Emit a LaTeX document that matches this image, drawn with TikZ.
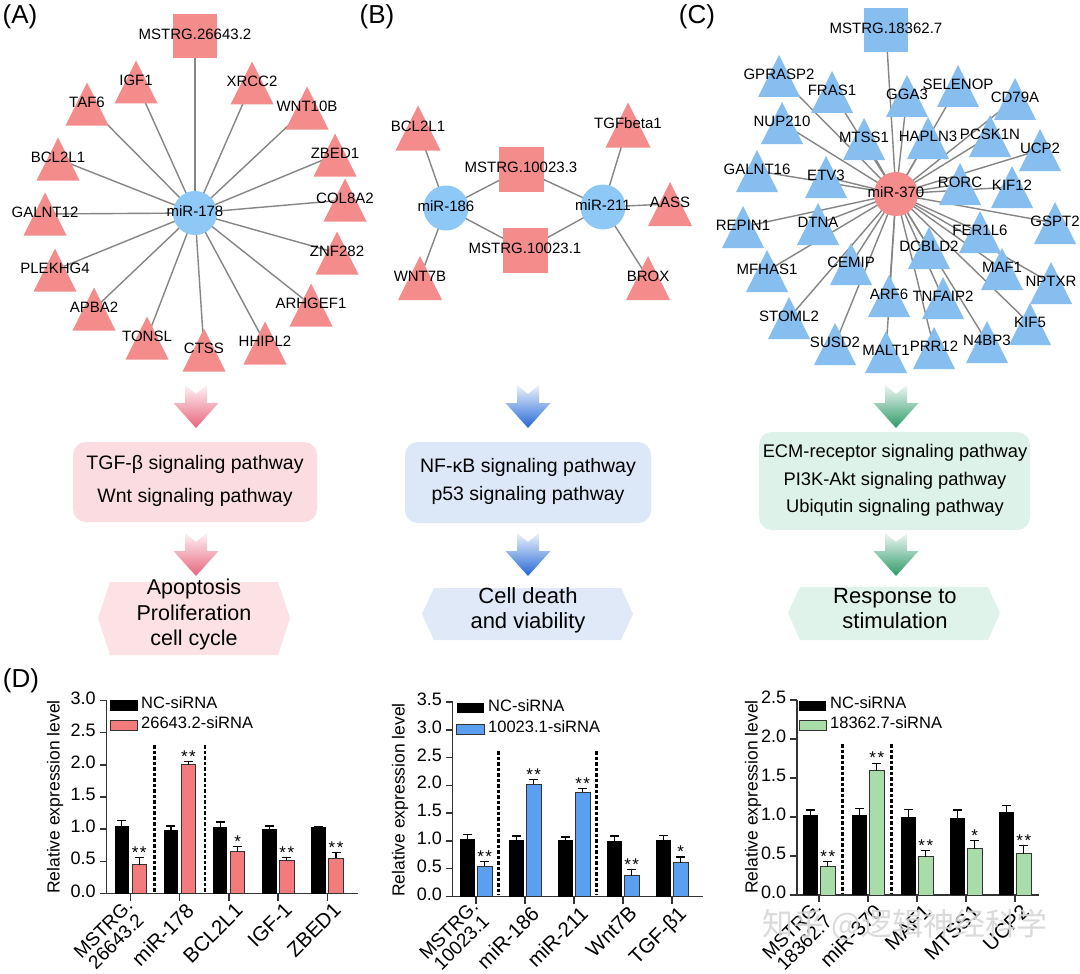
\documentclass[tikz,border=0pt]{standalone}
\usepackage{fontspec}
\setmainfont{Liberation Sans}
\newfontfamily\cjkfont{Noto Sans CJK SC}
\pgfdeclarelayer{bg}
\pgfdeclarelayer{edges}
\pgfdeclarelayer{shapes}
\pgfsetlayers{bg,edges,shapes,main}
\definecolor{tripink}{HTML}{F48C8C}
\definecolor{triblue}{HTML}{86BEEF}
\definecolor{cirblue}{HTML}{8DC8F7}
\definecolor{edgegray}{HTML}{858585}
\definecolor{boxpink}{HTML}{FBDDE1}
\definecolor{boxblue}{HTML}{DCE7F7}
\definecolor{boxgreen}{HTML}{DDF2E9}
\definecolor{arrpink}{HTML}{E8647C}
\definecolor{arrblue}{HTML}{2468D4}
\definecolor{arrgreen}{HTML}{2E9A68}
\definecolor{barpink}{HTML}{F47B7B}
\definecolor{barblue}{HTML}{5BA0F0}
\definecolor{bargreen}{HTML}{A8DCA8}
\definecolor{axisgray}{HTML}{333333}
\newcommand\fs[1]{\fontsize{#1}{#1}\selectfont}
\tikzset{
  lbl/.style={font=\fs{15}, inner sep=0pt, text height=0.72em, text depth=0pt},
  edge/.style={draw=edgegray, line width=1.4pt},
  ptxt/.style={inner sep=0pt, text height=0.72em, text depth=0.21em},
  axisline/.style={draw=axisgray, line width=1.5pt},
  errb/.style={draw=black, line width=1.2pt},
  sepline/.style={draw=black, line width=2.2pt, dash pattern=on 3.5pt off 2pt},
  stars/.style={font=\fs{17}, inner sep=0pt},
  ticklbl/.style={font=\fs{18}, inner sep=0pt, anchor=east, text height=0.72em, text depth=0pt},
  xlab/.style={font=\fs{20.5}, inner sep=0pt, rotate=45, anchor=north east},
  xlabtwo/.style={font=\fontsize{19}{18}\selectfont, inner sep=0pt, rotate=45, anchor=north east, align=center},
  ytitle/.style={font=\fs{17.5}, rotate=90, inner sep=0pt},
  leg/.style={font=\fs{16.5}, inner sep=0pt, anchor=west, text height=0.72em, text depth=0.21em},
  panel/.style={font=\fs{26}, inner sep=0pt},
  pbox/.style={fill=#1, rounded corners=13pt, inner sep=0pt},
}
\newcommand\tri[6]{%
  \node[lbl] (#1) at (#2,#3) {#4};
  \begin{pgfonlayer}{shapes}
    \fill[#5] (#2-#6,#3+#6) -- (#2+#6,#3+#6) -- (#2,#3-#6) -- cycle;
  \end{pgfonlayer}}
\newcommand\sqr[6]{%
  \node[lbl] (#1) at (#2,#3) {#4};
  \begin{pgfonlayer}{shapes}
    \fill[#5] (#2-#6,#3-#6) rectangle (#2+#6,#3+#6);
  \end{pgfonlayer}}
\newcommand\cnode[6]{%
  \node[lbl] (#1) at (#2,#3) {#4};
  \begin{pgfonlayer}{shapes}
    \fill[#5] (#2,#3) circle[radius=#6];
  \end{pgfonlayer}}
\newcommand\grarrow[3]{%
  \shade[top color=#3!8, bottom color=#3] (#1-11,#2) -- (#1,#2+9) -- (#1+11,#2) -- (#1+11,#2+18) -- (#1+22.5,#2+18) -- (#1,#2+43) -- (#1-22.5,#2+18) -- (#1-11,#2+18) -- cycle;}
\newcommand\bpair[9]{%
  \fill[black] (#1-16,#2) rectangle (#1-1.5,#2-#3*#4);
  \draw[errb] (#1-8.75,#2-#3*#4) -- (#1-8.75,#2-#3*#5) (#1-13.25,#2-#3*#5) -- (#1-4.25,#2-#3*#5);
  \filldraw[fill=#9, draw=axisgray, line width=1pt] (#1+1.5,#2) rectangle (#1+16,#2-#3*#6);
  \draw[errb] (#1+8.75,#2-#3*#6) -- (#1+8.75,#2-#3*#7) (#1+4.25,#2-#3*#7) -- (#1+13.25,#2-#3*#7);
  \node[stars, anchor=south] at (#1+8.75,#2-#3*#7+1) {#8};}
\begin{document}
\begin{tikzpicture}[x=1pt,y=-1pt]
\begin{pgfonlayer}{bg}\fill[white] (0,0) rectangle (1080,974);\end{pgfonlayer}
\useasboundingbox (0,0) rectangle (1080,974);
% ---------- panel A ----------
\node[panel] (lA) at (20,17) {(A)};
\sqr{aS}{195}{36}{MSTRG.26643.2}{tripink}{22}
\cnode{a178}{195}{213}{miR-178}{cirblue}{22}
\foreach \n/\x/\y in {IGF1/136/82, TAF6/87/104, XRCC2/252/83, WNT10B/307/108, ZBED1/335/155, COL8A2/345/200, ZNF282/337/253, ARHGEF1/311/305, HHIPL2/265/343, CTSS/204/350, TONSL/147/338, APBA2/94/309, PLEKHG4/55/270, GALNT12/45/214, BCL2L1/58/159}
  {\tri{a\n}{\x}{\y}{\n}{tripink}{21.5}}
\begin{pgfonlayer}{edges}
\foreach \n in {S,IGF1,TAF6,XRCC2,WNT10B,ZBED1,COL8A2,ZNF282,ARHGEF1,HHIPL2,CTSS,TONSL,APBA2,PLEKHG4,GALNT12,BCL2L1}
  \draw[edge] (a178.center) -- (a\n.center);
\end{pgfonlayer}
% ---------- panel B ----------
\node[panel] (lB) at (377,17) {(B)};
\tri{bBCL}{418}{128}{BCL2L1}{tripink}{22.5}
\tri{bTGF}{628}{125}{TGFbeta1}{tripink}{22.5}
\sqr{bSthree}{521}{169}{MSTRG.10023.3}{tripink}{22.5}
\sqr{bSone}{525}{250}{MSTRG.10023.1}{tripink}{22.5}
\cnode{bm186}{446}{208}{miR-186}{cirblue}{22.5}
\cnode{bm211}{603}{207}{miR-211}{cirblue}{22.5}
\tri{bAASS}{670}{204}{AASS}{tripink}{22}
\tri{bWNT}{420}{278}{WNT7B}{tripink}{22}
\tri{bBROX}{648}{278}{BROX}{tripink}{22}
\begin{pgfonlayer}{edges}
\foreach \n in {bBCL,bWNT,bSthree,bSone} \draw[edge] (bm186.center) -- (\n.center);
\foreach \n in {bTGF,bAASS,bBROX,bSthree,bSone} \draw[edge] (bm211.center) -- (\n.center);
\end{pgfonlayer}
% ---------- panel C ----------
\node[panel] (lC) at (697,17) {(C)};
\sqr{cS}{886}{30}{MSTRG.18362.7}{triblue}{22}
\cnode{c370}{896}{194}{miR-370}{tripink}{22}
\foreach \n/\x/\y in {GPRASP2/779/76, FRAS1/832/92, GGA3/907/96, SELENOP/958/86, CD79A/1015/99, NUP210/782/123, MTSS1/864/139, HAPLN3/928/138, PCSK1N/990/136, UCP2/1040/150, GALNT16/757/171, ETV3/826/177, RORC/960/184, KIF12/1012/187, GSPT2/1055/223, REPIN1/743/227, DTNA/818/224, FER1L6/980/232, DCBLD2/929/248, MFHAS1/767/271, CEMIP/851/264, MAF1/1002/269, NPTXR/1051/283, ARF6/889/296, TNFAIP2/943/298, STOML2/789/318, KIF5/1030/324, SUSD2/835/344, MALT1/886/352, PRR12/934/348, N4BP3/987/342}
  {\tri{c\n}{\x}{\y}{\n}{triblue}{21}}
\begin{pgfonlayer}{edges}
\foreach \n in {S,GPRASP2,FRAS1,GGA3,SELENOP,CD79A,NUP210,MTSS1,HAPLN3,PCSK1N,UCP2,GALNT16,ETV3,RORC,KIF12,GSPT2,REPIN1,DTNA,FER1L6,DCBLD2,MFHAS1,CEMIP,MAF1,NPTXR,ARF6,TNFAIP2,STOML2,KIF5,SUSD2,MALT1,PRR12,N4BP3}
  \draw[edge] (c370.center) -- (c\n.center);
\end{pgfonlayer}
% ---------- arrows ----------
\grarrow{196}{385}{arrpink}
\grarrow{196}{533}{arrpink}
\grarrow{528}{385}{arrblue}
\grarrow{528}{533}{arrblue}
\grarrow{896}{385}{arrgreen}
\grarrow{896}{533}{arrgreen}
% ---------- pathway boxes ----------
\node[pbox=boxpink, minimum width=244pt, minimum height=80pt] (boxA) at (195,482) {};
\node[pbox=boxblue, minimum width=246pt, minimum height=81pt] (boxB) at (528,482.5) {};
\node[pbox=boxgreen, minimum width=271pt, minimum height=98pt] (boxC) at (894.5,481) {};
\node[ptxt, font=\fs{19.5}] (tA1) at (195,467) {TGF-β signaling pathway};
\node[ptxt, font=\fs{19.5}] (tA2) at (195,500) {Wnt signaling pathway};
\node[ptxt, font=\fs{19.5}] (tB1) at (528,470) {NF-κB signaling pathway};
\node[ptxt, font=\fs{19.5}] (tB2) at (528,498) {p53 signaling pathway};
\node[ptxt, font=\fs{18.3}] (tC1) at (895,455) {ECM-receptor signaling pathway};
\node[ptxt, font=\fs{18.3}] (tC2) at (895,483) {PI3K-Akt signaling pathway};
\node[ptxt, font=\fs{18.3}] (tC3) at (895,510) {Ubiqutin signaling pathway};
% ---------- outcome hexagons ----------
\fill[boxpink!85!white] (110,582) -- (278,582) -- (290,618) -- (278,655) -- (110,655) -- (98,618) -- cycle;
\fill[boxblue!90!white] (434,588) -- (621,588) -- (633,614) -- (621,640) -- (434,640) -- (422,614) -- cycle;
\fill[boxgreen!90!white] (800,587) -- (988,587) -- (1000,613) -- (988,640) -- (800,640) -- (788,613) -- cycle;
\node[ptxt, font=\fs{21.5}] (hA1) at (194,592) {Apoptosis};
\node[ptxt, font=\fs{21.5}] (hA2) at (194,618) {Proliferation};
\node[ptxt, font=\fs{21.5}] (hA3) at (194,643) {cell cycle};
\node[ptxt, font=\fs{22}] (hB1) at (528,601) {Cell death};
\node[ptxt, font=\fs{22}] (hB2) at (528,626) {and viability};
\node[ptxt, font=\fs{22}] (hC1) at (895,601) {Response to};
\node[ptxt, font=\fs{22}] (hC2) at (895,626) {stimulation};
% ---------- panel D ----------
\node[panel] (lD) at (21,681) {(D)};
% chart 1
\node[ytitle] (y1) at (55,797) {Relative expression level};
\draw[axisline] (106.5,893.5) -- (106.5,700.5);
\draw[axisline] (106.5,893.5) -- (358,893.5);
\foreach \v/\t in {0/0.0,0.5/0.5,1/1.0,1.5/1.5,2/2.0,2.5/2.5,3/3.0}
  \draw[axisline] (106.5,893.5-64.33*\v) -- ++(-7,0) node[ticklbl, xshift=-3pt] {\t};
\foreach \c in {130.5,179.7,228.9,278.1,327.3} \draw[axisline] (\c,893.5) -- (\c,900.5);
\draw[sepline] (154.5,745) -- (154.5,892);
\draw[sepline] (205,745) -- (205,892);
\bpair{130.5}{893.5}{64.33}{1.05}{1.13}{0.45}{0.56}{*\kern1.5pt*}{barpink}
\bpair{179.7}{893.5}{64.33}{0.99}{1.05}{2.00}{2.05}{*\kern1.5pt*}{barpink}
\bpair{228.9}{893.5}{64.33}{1.03}{1.11}{0.65}{0.73}{*}{barpink}
\bpair{278.1}{893.5}{64.33}{1.00}{1.05}{0.51}{0.56}{*\kern1.5pt*}{barpink}
\bpair{327.3}{893.5}{64.33}{1.03}{1.04}{0.55}{0.64}{*\kern1.5pt*}{barpink}
\fill[black] (110,700) rectangle (137.7,710.7);
\filldraw[fill=barpink, draw=axisgray, line width=1pt] (110,720) rectangle (137.7,730.7);
\node[leg] (g1a) at (141,705.5) {NC-siRNA};
\node[leg] (g1b) at (141,725.5) {26643.2-siRNA};
\node[xlabtwo] (x11) at (124.5,897.5) {MSTRG.\\26643.2};
\node[xlab] (x12) at (184.7,901.5) {miR-178};
\node[xlab] (x13) at (233.9,901.5) {BCL2L1};
\node[xlab] (x14) at (283.1,901.5) {IGF-1};
\node[xlab] (x15) at (332.3,901.5) {ZBED1};
% chart 2
\node[ytitle] (y2) at (400,800) {Relative expression level};
\draw[axisline] (452.7,896.5) -- (452.7,702);
\draw[axisline] (452.7,896.5) -- (703,896.5);
\foreach \v/\t in {0/0.0,0.5/0.5,1/1.0,1.5/1.5,2/2.0,2.5/2.5,3/3.0,3.5/3.5}
  \draw[axisline] (452.7,896.5-55.57*\v) -- ++(-7,0) node[ticklbl, xshift=-3pt] {\t};
\foreach \c in {476,525,574,623,672} \draw[axisline] (\c,896.5) -- (\c,903.5);
\draw[sepline] (498.5,751) -- (498.5,895);
\draw[sepline] (596.5,751) -- (596.5,895);
\bpair{476}{896.5}{55.57}{1.04}{1.12}{0.54}{0.63}{*\kern1.5pt*}{barblue}
\bpair{525}{896.5}{55.57}{1.01}{1.09}{2.02}{2.11}{*\kern1.5pt*}{barblue}
\bpair{574}{896.5}{55.57}{1.02}{1.07}{1.88}{1.94}{*\kern1.5pt*}{barblue}
\bpair{623}{896.5}{55.57}{0.99}{1.09}{0.37}{0.49}{*\kern1.5pt*}{barblue}
\bpair{672}{896.5}{55.57}{1.02}{1.10}{0.61}{0.71}{*}{barblue}
\fill[black] (456.7,703.3) rectangle (484,713.3);
\filldraw[fill=barblue, draw=axisgray, line width=1pt] (456.7,724.3) rectangle (484,734.3);
\node[leg] (g2a) at (488,708.5) {NC-siRNA};
\node[leg] (g2b) at (488,729.5) {10023.1-siRNA};
\node[xlabtwo] (x21) at (470,898.5) {MSTRG.\\10023.1};
\node[xlab] (x22) at (530,904.5) {miR-186};
\node[xlab] (x23) at (579,904.5) {miR-211};
\node[xlab] (x24) at (628,904.5) {Wnt7B};
\node[xlab] (x25) at (677,904.5) {TGF-β1};
% chart 3
\node[ytitle] (y3) at (753,797) {Relative expression level};
\draw[axisline] (797,895) -- (797,700);
\draw[axisline] (797,895) -- (1039,895);
\foreach \v/\t in {0/0.0,0.5/0.5,1/1.0,1.5/1.5,2/2.0,2.5/2.5}
  \draw[axisline] (797,895-78*\v) -- ++(-7,0) node[ticklbl, xshift=-3pt] {\t};
\foreach \c in {819,868,917,966,1015} \draw[axisline] (\c,895) -- (\c,902);
\draw[sepline] (842.5,744) -- (842.5,893);
\draw[sepline] (891.5,744) -- (891.5,893);
\bpair{819}{895}{78}{1.03}{1.09}{0.36}{0.43}{*\kern1.5pt*}{bargreen}
\bpair{868}{895}{78}{1.03}{1.11}{1.59}{1.69}{*\kern1.5pt*}{bargreen}
\bpair{917}{895}{78}{1.00}{1.10}{0.49}{0.57}{*\kern1.5pt*}{bargreen}
\bpair{966}{895}{78}{0.99}{1.09}{0.59}{0.70}{*}{bargreen}
\bpair{1015}{895}{78}{1.07}{1.15}{0.53}{0.63}{*\kern1.5pt*}{bargreen}
\fill[black] (799,700.7) rectangle (826,710.7);
\filldraw[fill=bargreen, draw=axisgray, line width=1pt] (799,720.7) rectangle (826,730.7);
\node[leg] (g3a) at (830,705.7) {NC-siRNA};
\node[leg] (g3b) at (830,725.7) {18362.7-siRNA};
\node[xlabtwo] (x31) at (813,899) {MSTRG.\\18362.7};
\node[xlab] (x32) at (873,903) {miR-370};
\node[xlab] (x33) at (922,903) {MAF1};
\node[xlab] (x34) at (971,903) {MTSS1};
\node[xlab] (x35) at (1020,903) {UCP2};
% watermark
\node[font=\cjkfont\fs{31}, text=black!16, opacity=0.9, inner sep=0pt] (wm) at (905,925) {知乎 @逻辑神经科学};
\end{tikzpicture}
\end{document}
